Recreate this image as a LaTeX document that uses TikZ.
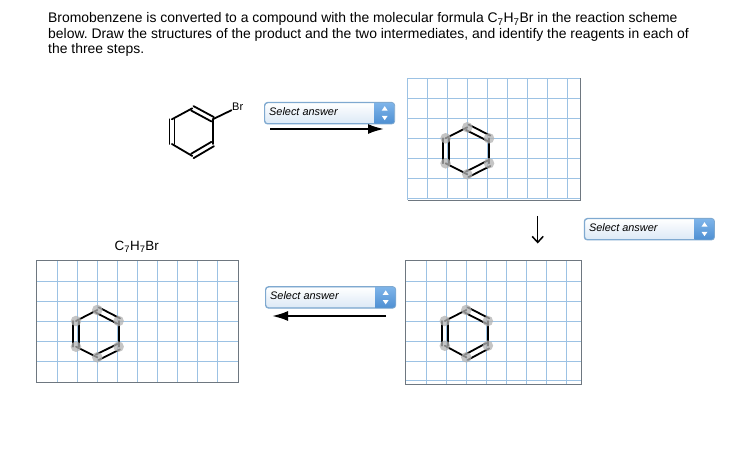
\documentclass[tikz,border=0pt]{standalone}
\usepackage{fontspec}
\setmainfont{Liberation Sans}
\usetikzlibrary{calc,arrows.meta}
\definecolor{gridblue}{HTML}{9CC2E4}
\definecolor{gridframe}{HTML}{6E7780}
\definecolor{selectedge}{HTML}{7FA9D0}
\definecolor{selectlow}{HTML}{DCE9F6}
\definecolor{btntop}{HTML}{7FB5EA}
\definecolor{btnlow}{HTML}{4E8FD2}
\tikzset{
  gridline/.style={draw=gridblue,line width=1pt},
  gridedge/.style={draw=gridframe,line width=1.1pt},
  bond/.style={draw=black,line width=1.8pt,line cap=round},
  atomspot/.style={fill=black!30,fill opacity=0.75},
  selectframe/.style={draw=selectedge,line width=0.8pt,rounded corners=3pt,top color=white,bottom color=selectlow,minimum width=129.5pt,minimum height=20.8pt,inner sep=0pt,anchor=north west},
  selectbtn/.style={top color=btntop,bottom color=btnlow},
  selecttext/.style={font=\fontsize{10.9}{12}\selectfont\itshape,anchor=west,inner sep=0pt},
  reactarrow/.style={draw=black,line width=1.9pt,-{Latex[length=16pt,width=10pt]}},
  downarrow/.style={draw=black,line width=1.5pt,-{Straight Barb[length=6pt,width=11pt]}},
  bodytext/.style={font=\fontsize{13.92}{15.5}\selectfont,anchor=north west,align=left,inner sep=0pt},
}
\frenchspacing
% double bond between two named atoms
\newcommand{\dblbond}[3]{%
  \draw[bond] ($(#1)!#3!90:(#2)$) -- ($(#2)!#3!-90:(#1)$);
  \draw[bond] ($(#1)!#3!-90:(#2)$) -- ($(#2)!#3!90:(#1)$);
}
% six atoms, named a..f clockwise from the top
\newcommand{\ringatoms}[8]{%
  \coordinate (#1a) at (#2,#3);
  \coordinate (#1b) at (#4,#5);
  \coordinate (#1c) at (#4,#6);
  \coordinate (#1d) at (#2,#7);
  \coordinate (#1e) at ({2*#2-#4},#6);
  \coordinate (#1f) at ({2*#2-#4},#5);
  \draw[bond] (#1a) -- (#1f);
  \draw[bond] (#1b) -- (#1c);
  \draw[bond] (#1d) -- (#1e);
  \dblbond{#1a}{#1b}{#8}
  \dblbond{#1c}{#1d}{#8}
  \dblbond{#1e}{#1f}{#8}
}
\newcommand{\ringspots}[1]{%
  \foreach \s in {a,b,c,d,e,f} \fill[atomspot] (#1\s) circle (5.3pt);
}
\newcommand{\selectwidget}[3]{%
  \node[selectframe] (#1) at (#2,#3) {};
  \begin{scope}
    \clip[rounded corners=3pt] (#1.north west) rectangle (#1.south east);
    \path[selectbtn] ($(#1.north east)+(-20,0)$) rectangle (#1.south east);
  \end{scope}
  \draw[selectedge,line width=0.8pt,rounded corners=3pt] (#1.north west) rectangle (#1.south east);
  \node[selecttext] (#1text) at ($(#1.west)+(4.6,-1.6)$) {Select answer};
  \fill[white] ($(#1.east)+(-10,-7)$) -- ++(3,4.4) -- ++(-6,0) -- cycle;
  \fill[white] ($(#1.east)+(-10,7)$) -- ++(3,-4.4) -- ++(-6,0) -- cycle;
}
\begin{document}
\begin{tikzpicture}[x=1pt,y=-1pt]
\useasboundingbox[fill=white] (0,0) rectangle (747,449);

\node[bodytext] (question) at (48,12.6) {Bromobenzene is converted to a compound with the molecular formula C\textsubscript{7}H\textsubscript{7}Br in the reaction scheme\\below. Draw the structures of the product and the two intermediates, and identify the reagents in each of\\the three steps.};

% bromobenzene
\ringatoms{s}{192.3}{108.3}{212.7}{119.3}{144}{156}{2.5pt}
\node[font=\fontsize{11}{12}\selectfont,inner sep=0pt] (br) at (237.7,106.5) {Br};
\coordinate (brbond) at (231.5,110.2);
\draw[bond] (sb) -- (brbond);

% grid 1
\foreach \x in {427.5,447.5,...,570} \draw[gridline] (\x,78.5) -- (\x,198.5);
\foreach \y in {98.5,118.5,...,190} \draw[gridline] (407.5,\y) -- (580.5,\y);
\draw[gridline] (407.5,198.5) -- (580.5,198.5);
\draw[gridline] (407.5,200.5) -- (407.5,78.5) -- (580.5,78.5);
\draw[gridedge] (580.5,78.5) -- (580.5,200.5) -- (407.5,200.5);
\ringatoms{g}{467.3}{127.3}{489}{138.3}{163.3}{174.3}{3pt}
\ringspots{g}

% grid 2
\foreach \x in {426.5,446.5,...,570} \draw[gridline] (\x,260.5) -- (\x,384.5);
\foreach \y in {281.5,301.5,...,365} \draw[gridline] (405.5,\y) -- (581.5,\y);
\draw[gridline] (405.5,380.5) -- (581.5,380.5);
\draw[gridedge] (405.5,260.5) rectangle (581.5,384.5);
\ringatoms{h}{466.3}{310}{487.8}{321}{345.7}{357.3}{3pt}
\ringspots{h}

% grid 3
\foreach \x in {57.5,77.5,...,225} \draw[gridline] (\x,260.5) -- (\x,382.5);
\foreach \y in {281.5,301.5,...,365} \draw[gridline] (36.5,\y) -- (238.5,\y);
\draw[gridedge] (36.5,260.5) rectangle (238.5,382.5);
\ringatoms{k}{97.3}{310}{118.6}{321}{346.7}{357.3}{3pt}
\ringspots{k}

\node[font=\fontsize{13.4}{15}\selectfont,inner sep=0pt] (product) at (136.8,246.6) {C\textsubscript{7}H\textsubscript{7}Br};

% select boxes
\selectwidget{sela}{264.4}{102.4}
\selectwidget{selb}{584.2}{218.4}
\selectwidget{selc}{265.4}{286.6}

% arrows
\coordinate (a1s) at (270,129);
\coordinate (a1e) at (384,129);
\draw[reactarrow] (a1s) -- (a1e);
\coordinate (a2s) at (537.7,216);
\coordinate (a2e) at (537.7,243.5);
\draw[downarrow] (a2s) -- (a2e);
\coordinate (a3s) at (386,316);
\coordinate (a3e) at (272,316);
\draw[reactarrow] (a3s) -- (a3e);
\end{tikzpicture}
\end{document}
